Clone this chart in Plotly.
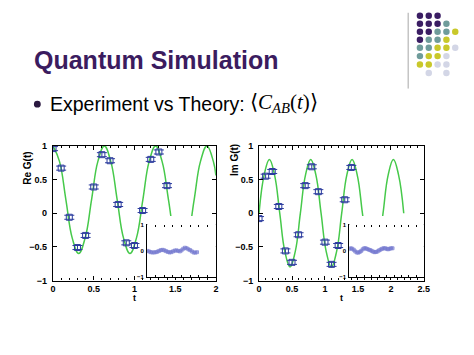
import plotly.graph_objects as go

W, H = 474, 355

# ---------------- data ----------------
t_exp = [0.0, 0.1, 0.2, 0.3, 0.4, 0.5, 0.6, 0.7, 0.8, 0.9, 1.0, 1.1, 1.2, 1.3, 1.4]
re_exp = [0.96, 0.67, -0.06, -0.51, -0.33, 0.39, 0.87, 0.78, 0.13, -0.44, -0.48, 0.04, 0.80, 0.91, 0.41]
im_exp = [-0.08, 0.55, 0.62, 0.10, -0.56, -0.73, -0.32, 0.41, 0.69, 0.32, -0.43, -0.76, -0.48, 0.20, 0.68]
err_exp = [0.03] * 15

t_re_th = [0, 0.079, 0.158, 0.236, 0.315, 0.394, 0.473, 0.551, 0.63, 0.709, 0.788, 0.866, 0.945,
           1.024, 1.103, 1.181, 1.26, 1.339, 1.418, 1.496, 1.575, 1.654, 1.733, 1.811, 1.89, 1.969, 2.0]
re_th = [1, 0.77, 0.2, -0.37, -0.6, -0.37, 0.2, 0.77, 1, 0.77, 0.2, -0.37, -0.6,
         -0.37, 0.2, 0.77, 1, 0.77, 0.2, -0.37, -0.6, -0.37, 0.2, 0.77, 1, 0.77, 0.56]

t_im_th = [0, 0.078, 0.157, 0.235, 0.314, 0.392, 0.47, 0.549, 0.627, 0.705, 0.784, 0.862, 0.941,
           1.019, 1.097, 1.176, 1.254, 1.332, 1.411, 1.489, 1.568, 1.646, 1.724, 1.803, 1.881,
           1.959, 2.038, 2.116, 2.195]
im_th = [0, 0.57, 0.8, 0.57, 0, -0.57, -0.8, -0.57, 0, 0.57, 0.8, 0.57, 0,
         -0.57, -0.8, -0.57, 0, 0.57, 0.8, 0.57, 0, -0.57, -0.8, -0.57, 0,
         0.57, 0.8, 0.57, 0]

t_diff = [0.0, 0.05, 0.1, 0.15, 0.2, 0.25, 0.3, 0.35, 0.4, 0.45, 0.5, 0.55, 0.6, 0.65, 0.7,
          0.75, 0.8, 0.85, 0.9, 0.95, 1.0, 1.05, 1.1, 1.15, 1.2, 1.25, 1.3, 1.35, 1.4, 1.45]
re_diff = [0.0, -0.02, -0.05, -0.06, -0.06, -0.05, -0.03, 0.0, 0.03, 0.04, 0.02, -0.01, -0.04, -0.06, -0.05,
           -0.02, 0.01, 0.02, 0.0, -0.02, 0.02, 0.08, 0.12, 0.10, 0.06, 0.03, -0.02, -0.06, -0.07, -0.05]
im_diff = [0.08, 0.10, 0.08, 0.04, -0.02, -0.06, -0.07, -0.04, 0.0, 0.06, 0.10, 0.10, 0.07, 0.05, 0.03,
           0.0, -0.03, -0.05, -0.04, -0.02, 0.02, 0.05, 0.08, 0.10, 0.10, 0.08, 0.06, 0.08, 0.10, 0.10]
err_diff = [0.02] * 30

main_ticks = [-1, -0.5, 0, 0.5, 1]
main_tick_text = ["\u22121", "\u22120.5", "0", "0.5", "1"]
inset_ticks = [-1, 0, 1]
inset_tick_text = ["\u22121", "0", "1"]

# ---------------- style ----------------
GREEN = "#46c94a"
BLUE = "#2c3c9e"
BLUE_L = "#7478d0"
FONT = "Liberation Sans"

def px_x(p):
    return p / W

def px_y(p):
    return 1 - p / H

fig = go.Figure()

# main curves & points
fig.add_trace(go.Scatter(x=t_re_th, y=re_th, mode="lines", line=dict(color=GREEN, width=1.5, shape="spline", smoothing=1.2),
                         xaxis="x", yaxis="y", showlegend=False))
fig.add_trace(go.Scatter(x=t_exp, y=re_exp, mode="markers",
                         marker=dict(symbol="square-open", size=6, color=BLUE, line=dict(width=1, color=BLUE)),
                         error_y=dict(type="data", array=err_exp, color=BLUE, thickness=1, width=5),
                         xaxis="x", yaxis="y", showlegend=False))
fig.add_trace(go.Scatter(x=t_im_th, y=im_th, mode="lines", line=dict(color=GREEN, width=1.5, shape="spline", smoothing=1.2),
                         xaxis="x2", yaxis="y2", showlegend=False))
fig.add_trace(go.Scatter(x=t_exp, y=im_exp, mode="markers",
                         marker=dict(symbol="square-open", size=6, color=BLUE, line=dict(width=1, color=BLUE)),
                         error_y=dict(type="data", array=err_exp, color=BLUE, thickness=1, width=5),
                         xaxis="x2", yaxis="y2", showlegend=False))
# insets
fig.add_trace(go.Scatter(x=t_diff, y=re_diff, mode="markers",
                         marker=dict(symbol="square-open", size=3, color=BLUE_L, line=dict(width=0.7, color=BLUE_L)),
                         error_y=dict(type="data", array=err_diff, color=BLUE_L, thickness=0.6, width=1.5),
                         xaxis="x3", yaxis="y3", showlegend=False))
fig.add_trace(go.Scatter(x=t_diff, y=im_diff, mode="markers",
                         marker=dict(symbol="square-open", size=3, color=BLUE_L, line=dict(width=0.7, color=BLUE_L)),
                         error_y=dict(type="data", array=err_diff, color=BLUE_L, thickness=0.6, width=1.5),
                         xaxis="x4", yaxis="y4", showlegend=False))

tickfont = dict(family=FONT, size=9, color="black", weight="bold")
labelfont = dict(family=FONT, size=10, color="black", weight="bold")
small_font = dict(family=FONT, size=6, color="black", weight="bold")

def main_x(dom, rng, dtick):
    return dict(domain=dom, range=rng, showline=True, linecolor="black", linewidth=1.2, mirror="ticks",
                ticks="inside", ticklen=4, tickcolor="black", dtick=dtick, tick0=0, tickfont=tickfont,
                showgrid=False, zeroline=False, fixedrange=True,
                minor=dict(ticks="inside", ticklen=2, dtick=0.1, tickcolor="black", showgrid=False))

def main_y(dom):
    return dict(domain=dom, range=[-1, 1], showline=True, linecolor="black", linewidth=1.2, mirror="ticks",
                ticks="inside", ticklen=4, tickcolor="black", tickvals=main_ticks, ticktext=main_tick_text,
                tickfont=tickfont, showgrid=False, zeroline=False, fixedrange=True, ticklabelstandoff=3)

def inset_x(dom, rng, anchor):
    return dict(domain=dom, range=rng, anchor=anchor, showline=True, linecolor="black", linewidth=1.2,
                mirror="ticks", ticks="inside", ticklen=2, tickcolor="black", dtick=0.25, tick0=0,
                showticklabels=False, showgrid=False, zeroline=False, fixedrange=True)

def inset_y(dom, anchor):
    return dict(domain=dom, range=[-1, 1], anchor=anchor, showline=True, linecolor="black", linewidth=1.2,
                mirror=True, ticks="", tickvals=inset_ticks, ticktext=inset_tick_text, tickfont=small_font,
                showgrid=False, zeroline=False, fixedrange=True, ticklabelstandoff=1)

main_ydom = [px_y(283.5), px_y(145)]
inset_ydom = [px_y(280), px_y(226)]

fig.update_layout(
    width=W, height=H, margin=dict(l=0, r=0, t=0, b=0),
    paper_bgcolor="white", plot_bgcolor="white",
    xaxis=main_x([px_x(51), px_x(217)], [0, 2], 0.5),
    yaxis=main_y(main_ydom),
    xaxis2=dict(main_x([px_x(261), px_x(429)], [0, 2.5], 0.5), anchor="y2"),
    yaxis2=dict(main_y(main_ydom), anchor="x2"),
    xaxis3=inset_x([px_x(147), px_x(217)], [0, 2], "y3"),
    yaxis3=inset_y(inset_ydom, "x3"),
    xaxis4=inset_x([px_x(353), px_x(429)], [0, 2.5], "y4"),
    yaxis4=inset_y(inset_ydom, "x4"),
)

shapes = []
# dashed zero lines in insets
for xr, yr in (("x3 domain", "y3"), ("x4 domain", "y4")):
    shapes.append(dict(type="line", xref=xr, yref=yr, x0=0, x1=1, y0=0, y1=0,
                       line=dict(color="#555555", width=0.8, dash="dash"), layer="below"))
# white band above insets (inset background margin)
for x0, x1 in ((147, 217), (353, 429)):
    shapes.append(dict(type="rect", xref="paper", yref="paper", x0=px_x(x0), x1=px_x(x1),
                       y0=px_y(226.5), y1=px_y(217), fillcolor="white", line=dict(width=0), layer="above"))
# decorative divider line
shapes.append(dict(type="line", xref="paper", yref="paper", x0=px_x(413), x1=px_x(413),
                   y0=px_y(8), y1=px_y(86), line=dict(color="#a8a8a8", width=1)))
# bullet
shapes.append(dict(type="circle", xref="paper", yref="paper", x0=px_x(31.5), x1=px_x(38.5),
                   y0=px_y(105.5), y1=px_y(98.5), fillcolor="#2a1840", line=dict(width=0)))
# decorative dot grid
P, T, Y, L = "#3a1d63", "#6f9c9b", "#c9c82a", "#d3d6e6"
dot_rows = [
    [P, P, P, None, None],
    [P, P, P, T, None],
    [P, P, T, T, Y],
    [P, T, T, Y, None],
    [T, T, Y, Y, L],
    [T, Y, Y, L, None],
    [Y, Y, L, L, None],
    [None, L, None, L, None],
]
dot_x = [425, 434, 443, 452, 461]
dot_y = [11, 19.3, 27.5, 35.8, 44, 52.6, 61.2, 70]
r = 3.3
for ri, row in enumerate(dot_rows):
    for ci, c in enumerate(row):
        if c is None:
            continue
        cx, cy = dot_x[ci], dot_y[ri]
        shapes.append(dict(type="circle", xref="paper", yref="paper",
                           x0=px_x(cx - r), x1=px_x(cx + r), y0=px_y(cy + r), y1=px_y(cy - r),
                           fillcolor=c, line=dict(width=0)))
fig.update_layout(shapes=shapes)

ann = []
ann.append(dict(text="Quantum Simulation", x=px_x(30), y=px_y(57), xref="paper", yref="paper",
                xanchor="left", yanchor="middle", showarrow=False,
                font=dict(family=FONT, size=25, color="#3b1c5f", weight="bold")))
ann.append(dict(text="Experiment vs Theory:", x=px_x(46), y=px_y(102), xref="paper", yref="paper",
                xanchor="left", yanchor="middle", showarrow=False,
                font=dict(family=FONT, size=19.5, color="black")))
ann.append(dict(text="\u27e8<i>C</i><sub><i>AB</i></sub>(<i>t</i>)\u27e9", x=px_x(250), y=px_y(101),
                xref="paper", yref="paper", xanchor="left", yanchor="middle", showarrow=False,
                font=dict(family="Liberation Serif", size=21, color="black")))
# axis titles
ann.append(dict(text="Re G(t)", x=px_x(25), y=px_y(168), xref="paper", yref="paper", textangle=-90,
                xanchor="center", yanchor="middle", showarrow=False, font=labelfont))
ann.append(dict(text="Im G(t)", x=px_x(236), y=px_y(160), xref="paper", yref="paper", textangle=-90,
                xanchor="center", yanchor="middle", showarrow=False, font=labelfont))
ann.append(dict(text="t", x=px_x(134), y=px_y(302), xref="paper", yref="paper",
                xanchor="center", yanchor="middle", showarrow=False, font=tickfont))
ann.append(dict(text="t", x=px_x(345), y=px_y(302), xref="paper", yref="paper",
                xanchor="center", yanchor="middle", showarrow=False, font=tickfont))
fig.update_layout(annotations=ann)

fig.write_html("out.html")
